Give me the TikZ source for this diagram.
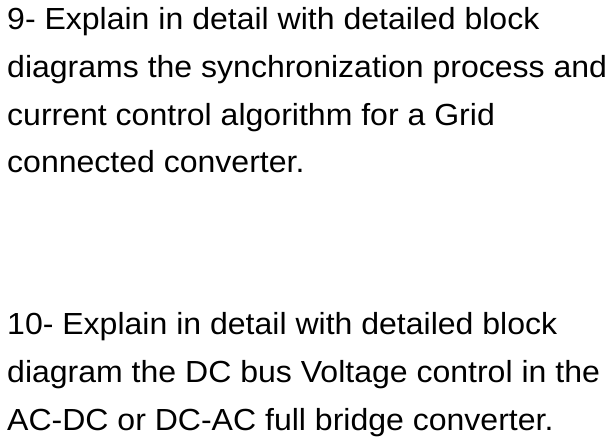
\documentclass[tikz,border=0pt]{standalone}
\usepackage{fontspec}
\usepackage{graphicx}
\setmainfont{Liberation Sans}
\tikzset{txt/.style={anchor=base west,inner sep=0pt,font=\fontsize{30.5}{34}\selectfont}}
\newcommand{\wline}[1]{\scalebox{1.05}[1]{#1}}
\begin{document}
\begin{tikzpicture}[x=1pt,y=1pt]
\useasboundingbox (0,0) rectangle (610,443);
\node[txt] (l1) at (7,443-30) {\wline{9- Explain in detail with detailed block}};
\node[txt] (l2) at (7,443-78) {\wline{diagrams the synchronization process and}};
\node[txt] (l3) at (7,443-126) {\wline{current control algorithm for a Grid}};
\node[txt] (l4) at (7,443-173) {\wline{connected converter.}};
\node[txt] (l5) at (7,443-335) {\wline{10- Explain in detail with detailed block}};
\node[txt] (l6) at (7,443-383) {\wline{diagram the DC bus Voltage control in the}};
\node[txt] (l7) at (7,443-431) {\wline{AC-DC or DC-AC full bridge converter.}};
\end{tikzpicture}
\end{document}
